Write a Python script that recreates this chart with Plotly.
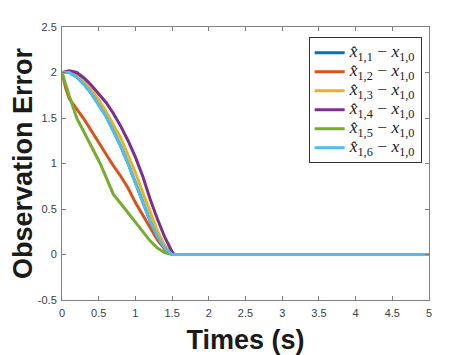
import plotly.graph_objects as go

# x_hat_{1,1} (hidden under x_hat_{1,6})
t11 = [0, 0.1, 0.2, 0.3, 0.4, 0.5, 0.6, 0.7, 0.8, 0.9, 1.0, 1.1, 1.2, 1.3, 1.4, 1.5, 5.0]
y11 = [2.0, 2.0, 1.95, 1.87, 1.77, 1.65, 1.52, 1.36, 1.19, 1.0, 0.79, 0.57, 0.37, 0.2, 0.07, 0.0, 0.0]

t12 = [0, 0.05, 0.1, 0.2, 0.29, 0.4, 0.5, 0.6, 0.68, 0.8, 0.9, 1.0, 1.1, 1.2, 1.3, 1.4, 1.5, 5.0]
y12 = [2.0, 1.83, 1.71, 1.60, 1.5, 1.36, 1.23, 1.10, 1.0, 0.86, 0.73, 0.57, 0.43, 0.29, 0.16, 0.06, 0.0, 0.0]

t13 = [0, 0.1, 0.2, 0.3, 0.4, 0.5, 0.6, 0.7, 0.8, 0.9, 1.0, 1.1, 1.2, 1.3, 1.4, 1.5, 1.52, 5.0]
y13 = [2.0, 2.01, 1.97, 1.90, 1.81, 1.70, 1.57, 1.43, 1.28, 1.09, 0.90, 0.68, 0.46, 0.26, 0.10, 0.01, 0.0, 0.0]

t14 = [0, 0.1, 0.2, 0.3, 0.4, 0.5, 0.6, 0.7, 0.8, 0.9, 1.0, 1.1, 1.2, 1.3, 1.4, 1.5, 1.53, 5.0]
y14 = [2.0, 2.02, 2.0, 1.94, 1.86, 1.77, 1.67, 1.55, 1.41, 1.25, 1.07, 0.86, 0.61, 0.39, 0.19, 0.03, 0.0, 0.0]

t15 = [0, 0.05, 0.1, 0.2, 0.3, 0.4, 0.52, 0.6, 0.7, 0.8, 0.9, 1.0, 1.1, 1.2, 1.3, 1.4, 1.5, 5.0]
y15 = [2.0, 1.86, 1.74, 1.5, 1.34, 1.19, 1.0, 0.85, 0.66, 0.56, 0.46, 0.36, 0.26, 0.15, 0.07, 0.02, 0.0, 0.0]

t16 = [0, 0.1, 0.2, 0.3, 0.4, 0.5, 0.6, 0.7, 0.8, 0.9, 1.0, 1.1, 1.2, 1.3, 1.4, 1.5, 5.0]
y16 = [2.0, 2.0, 1.95, 1.87, 1.77, 1.65, 1.52, 1.36, 1.19, 1.0, 0.79, 0.57, 0.37, 0.2, 0.07, 0.0, 0.0]

labels = [
    "<i>x̂</i><sub>1,1</sub> − <i>x</i><sub>1,0</sub>",
    "<i>x̂</i><sub>1,2</sub> − <i>x</i><sub>1,0</sub>",
    "<i>x̂</i><sub>1,3</sub> − <i>x</i><sub>1,0</sub>",
    "<i>x̂</i><sub>1,4</sub> − <i>x</i><sub>1,0</sub>",
    "<i>x̂</i><sub>1,5</sub> − <i>x</i><sub>1,0</sub>",
    "<i>x̂</i><sub>1,6</sub> − <i>x</i><sub>1,0</sub>",
]
colors = ["#0072BD", "#D95319", "#EDB120", "#7E2F8E", "#77AC30", "#4DBEEE"]

xtick_vals = [0, 0.5, 1, 1.5, 2, 2.5, 3, 3.5, 4, 4.5, 5]
xtick_text = ["0", "0.5", "1", "1.5", "2", "2.5", "3", "3.5", "4", "4.5", "5"]
ytick_vals = [-0.5, 0, 0.5, 1, 1.5, 2, 2.5]
ytick_text = ["-0.5", "0", "0.5", "1", "1.5", "2", "2.5"]

series = [(t11, y11), (t12, y12), (t13, y13), (t14, y14), (t15, y15), (t16, y16)]

fig = go.Figure()
for (t, y), lab, c in zip(series, labels, colors):
    fig.add_trace(go.Scatter(x=t, y=y, mode="lines",
                             name='<span style="font-size:17.5px">' + lab + '</span>',
                             line=dict(color=c, width=3)))

axis_common = dict(
    showline=True, linecolor="#808080", linewidth=1, mirror="allticks",
    ticks="inside", ticklen=4, tickcolor="#808080", showgrid=False, zeroline=False,
    automargin=False,
    tickfont=dict(family="Liberation Sans, Arial, sans-serif", size=11, color="#404040"),
)

# page body has an 8px margin, so the figure is shrunk to keep the plot box in place
fig.update_layout(
    width=466, height=347,
    margin=dict(l=54, r=45, t=19, b=55),
    paper_bgcolor="white", plot_bgcolor="white",
    xaxis=dict(range=[0, 5], tickvals=xtick_vals, ticktext=xtick_text,
               ticklabelstandoff=3,
               title=dict(text="<b>Times (s)</b>", standoff=12,
                          font=dict(family="Liberation Sans, Arial, sans-serif", size=27, color="#1a1a1a")),
               **axis_common),
    yaxis=dict(range=[-0.5, 2.5], tickvals=ytick_vals, ticktext=ytick_text,
               ticklabelstandoff=2,
               title=dict(text="<b>Observation Error</b>", standoff=4,
                          font=dict(family="Liberation Sans, Arial, sans-serif", size=27, color="#1a1a1a")),
               **axis_common),
    legend=dict(x=0.98, y=0.962, xanchor="right", yanchor="top",
                bgcolor="white", bordercolor="#333333", borderwidth=1,
                font=dict(family="Liberation Serif, serif", size=11.5, color="#1a1a1a"),
                tracegroupgap=0, itemwidth=30),
    showlegend=True,
)

fig.write_html("out.html")
